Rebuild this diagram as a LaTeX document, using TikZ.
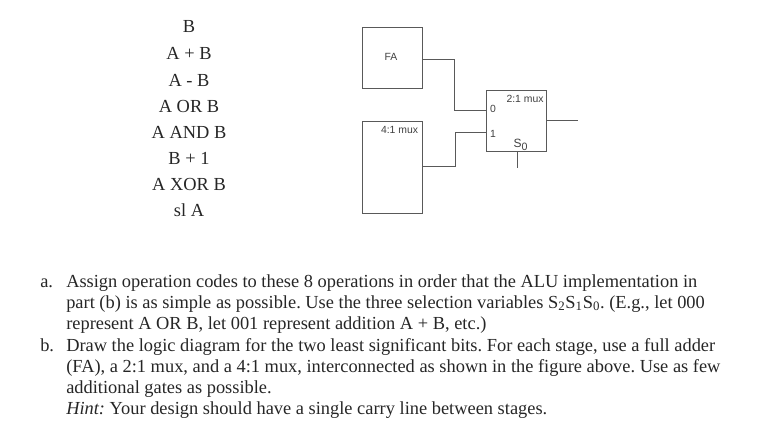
\documentclass[tikz,border=0pt]{standalone}
\usepackage{fontspec}
\setmainfont{Liberation Serif}
\newfontfamily\labelfont{Liberation Sans}

\begin{document}
\begin{tikzpicture}[x=0.75pt,y=-0.75pt]

\tikzset{
  OpStyle/.style = {font = \fontsize{13.8}{15}\selectfont, text = black!85, inner sep = 0pt, anchor = base},
  LineStyle/.style = {font = \fontsize{13.8}{15}\selectfont\frenchspacing, text = black!85, inner sep = 0pt, anchor = base west},
  BoxStyle/.style = {draw = black!65, line width = 0.75pt, minimum width = 45pt, inner sep = 0pt},
  WireStyle/.style = {draw = black!65, line width = 0.75pt},
  TagStyle/.style = {font = \labelfont\fontsize{7.8}{9}\selectfont, text = black!75, inner sep = 0pt}
}
  \useasboundingbox (0,0) rectangle (762,444);

  % operations
  \node[OpStyle] (op0) at (189, 32) {B};
  \node[OpStyle] (op1) at (189, 59) {A + B};
  \node[OpStyle] (op2) at (189, 86) {A - B};
  \node[OpStyle] (op3) at (189,112) {A OR B};
  \node[OpStyle] (op4) at (189,138) {A AND B};
  \node[OpStyle] (op5) at (189,164) {B + 1};
  \node[OpStyle] (op6) at (189,190) {A XOR B};
  \node[OpStyle] (op7) at (189,216) {sl A};

  % blocks
  \node[BoxStyle, minimum height = 45.75pt] (fa) at (392, 57.5) {};
  \node[BoxStyle, minimum height = 69pt] (mux4) at (392,167) {};
  \node[BoxStyle, minimum height = 45.75pt] (mux2) at (516.5,120.5) {};
  \coordinate (out) at (578,120);
  \coordinate (sel) at (517,168);
  \coordinate (in0) at (486,110);
  \coordinate (in1) at (486,132);
  \coordinate (faout) at (fa.east |- 0,59);
  \coordinate (muxout) at (mux4.east |- 0,166);
  \coordinate (muxright) at (mux2.east |- out);
  \coordinate (seltop) at (sel |- mux2.south);

  \node[TagStyle] (fatag) at (391, 57) {FA};
  \node[TagStyle] (mux4tag) at (399.5,130) {4:1 mux};
  \node[TagStyle] (mux2tag) at (525,99) {2:1 mux};
  \node[TagStyle] (tag0) at (493,109) {0};
  \node[TagStyle] (tag1) at (493,134) {1};
  \node[TagStyle, font = \labelfont\fontsize{9}{10}\selectfont] (seltag) at (520.5,145) {S\raisebox{-2.5pt}{\fontsize{8}{9}\selectfont 0}};

  % wires
  \draw[WireStyle] (faout) -| (454,110) -- (in0);
  \draw[WireStyle] (muxout) -| (455,132) -- (in1);
  \draw[WireStyle] (muxright) -- (out);
  \draw[WireStyle] (seltop) -- (sel);

  % question
  \node[LineStyle] (a) at (40,287) {a.};
  \node[LineStyle] (a1) at (66,287) {Assign operation codes to these 8 operations in order that the ALU implementation in};
  \node[LineStyle] (a2) at (66,308) {part (b) is as simple as possible. Use the three selection variables S\textsubscript{2}S\textsubscript{1}S\textsubscript{0}. (E.g., let 000};
  \node[LineStyle] (a3) at (66,329) {represent A OR B, let 001 represent addition A + B, etc.)};
  \node[LineStyle] (b) at (40,351) {b.};
  \node[LineStyle] (b1) at (66,351) {Draw the logic diagram for the two least significant bits. For each stage, use a full adder};
  \node[LineStyle] (b2) at (66,372) {(FA), a 2:1 mux, and a 4:1 mux, interconnected as shown in the figure above. Use as few};
  \node[LineStyle] (b3) at (66,393) {additional gates as possible.};
  \node[LineStyle] (b4) at (66,414) {\textit{Hint:} Your design should have a single carry line between stages.};

\end{tikzpicture}
\end{document}
